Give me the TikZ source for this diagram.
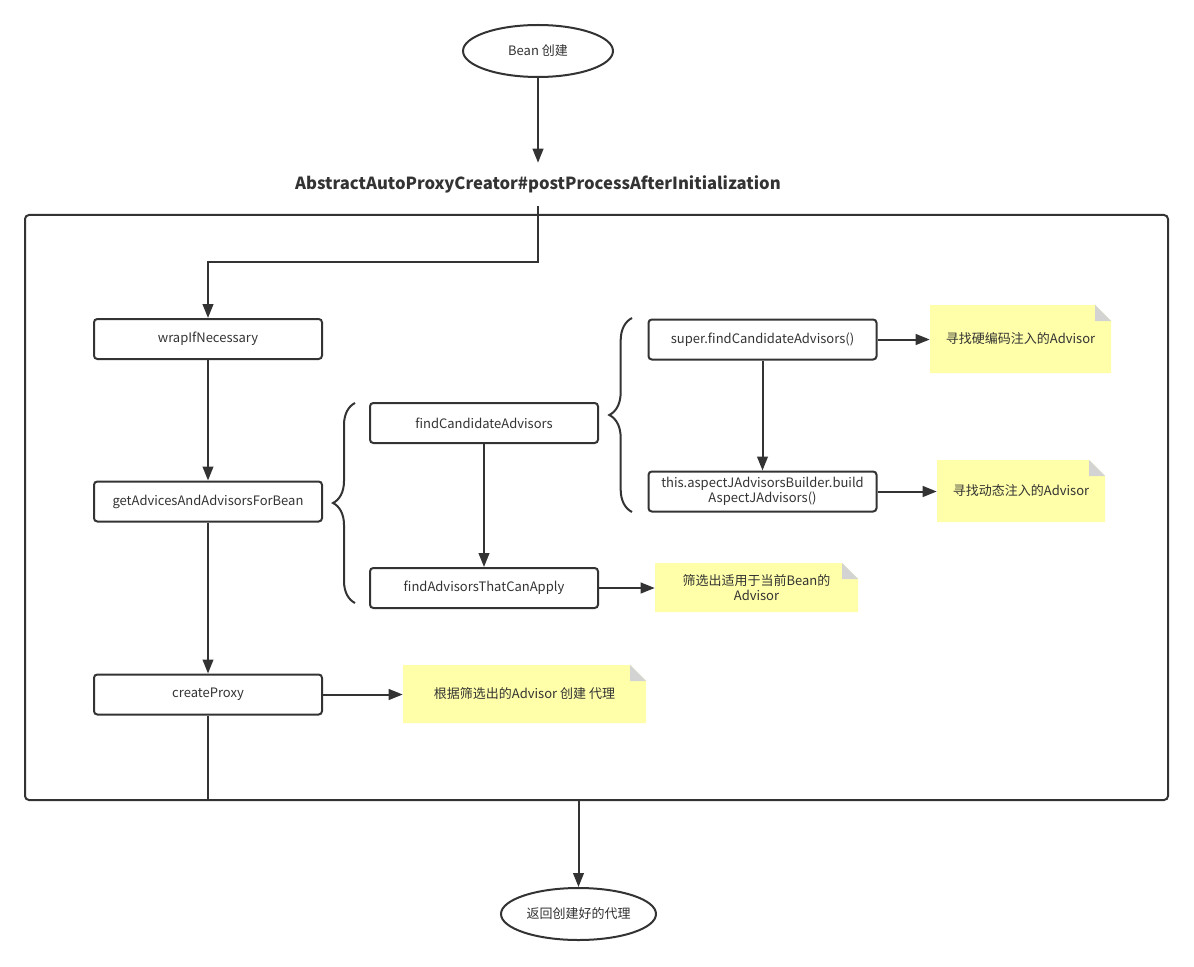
\documentclass[tikz,border=0pt]{standalone}
\usepackage{fontspec}
\setmainfont{Noto Sans CJK SC}
\usetikzlibrary{arrows.meta,shapes.geometric,decorations.pathreplacing}
\definecolor{ink}{HTML}{333333}
\definecolor{notefill}{HTML}{FFFFAA}
\definecolor{foldgray}{HTML}{D3D3D3}
\begin{document}
\begin{tikzpicture}[x=0.75pt,y=-0.75pt]
        \tikzset{line/.style={draw=ink, line width=1.5pt}}
        \tikzset{arrow/.style={line, -{Triangle[length=10.5pt,width=8pt]}}}
        \tikzset{label/.style={text=ink, font=\fontsize{9.75pt}{11.5pt}\selectfont, align=center, inner sep=0pt}}
        \tikzset{box/.style={line, label, rounded corners=2.5pt, minimum width=171pt, minimum height=30pt}}
        \tikzset{oval/.style={line, label, ellipse, fill=white}}
        \tikzset{note/.style={label, fill=white, path picture={
            \fill[notefill] (path picture bounding box.south west) -- (path picture bounding box.north west)
              -- ([xshift=-12pt]path picture bounding box.north east) -- ([yshift=-12pt]path picture bounding box.north east)
              -- (path picture bounding box.south east) -- cycle;
            \fill[foldgray] ([xshift=-12pt]path picture bounding box.north east) -- ([yshift=-12pt]path picture bounding box.north east)
              -- ([xshift=-12pt,yshift=-12pt]path picture bounding box.north east) -- cycle;}}}
        \useasboundingbox (0,0) rectangle (1194,966);
        \node[line, rounded corners=3pt, minimum width=857.25pt, minimum height=438.75pt] (frame) at (596.5,507.5) {};
        \node[oval, minimum width=112.5pt, minimum height=39pt] (bean) at (538,51) {Bean 创建};
        \node[label, font=\fontsize{12.5pt}{15pt}\selectfont\bfseries, minimum height=32.25pt] (title) at (538,184.5) {AbstractAutoProxyCreator\#postProcessAfterInitialization};
        \node[box] (wrap) at (208,339) {wrapIfNecessary};
        \node[box] (getadv) at (208,501.5) {getAdvicesAndAdvisorsForBean};
        \node[box] (proxy) at (208,694.5) {createProxy};
        \node[box] (findcand) at (484,423) {findCandidateAdvisors};
        \node[box] (findapply) at (484,588) {findAdvisorsThatCanApply};
        \node[box] (supercand) at (762.5,339.5) {super.findCandidateAdvisors()};
        \node[box] (aspectj) at (762.5,491.5) {this.aspectJAdvisorsBuilder.build\\AspectJAdvisors()};
        \node[note, minimum width=135.75pt, minimum height=51pt] (hardnote) at (1020.5,339) {寻找硬编码注入的Advisor};
        \node[note, minimum width=126pt, minimum height=46.5pt] (dynnote) at (1021,491) {寻找动态注入的Advisor};
        \node[note, minimum width=152.25pt, minimum height=36.75pt] (applynote) at (756.5,587.5) {筛选出适用于当前Bean的\\Advisor};
        \node[note, minimum width=182.25pt, minimum height=43.5pt] (proxynote) at (524.5,694) {根据筛选出的Advisor 创建 代理};
        \node[oval, minimum width=116.25pt, minimum height=39pt] (result) at (578.5,914) {返回创建好的代理};
        \draw[arrow] (bean.south) -- (title.north);
        \draw[arrow] (title.south) -- ++(0,56) -| (wrap.north);
        \draw[arrow] (wrap.south) -- (getadv.north);
        \draw[arrow] (getadv.south) -- (proxy.north);
        \draw[arrow] (findcand.south) -- (findapply.north);
        \draw[arrow] (supercand.south) -- (aspectj.north);
        \draw[arrow] (supercand.east) -- (supercand.east -| hardnote.west);
        \draw[arrow] (aspectj.east) -- (aspectj.east -| dynnote.west);
        \draw[arrow] (findapply.east) -- (findapply.east -| applynote.west);
        \draw[arrow] (proxy.east) -- (proxy.east -| proxynote.west);
        \draw[line] (proxy.south) -- (proxy.south |- frame.south);
        \draw[arrow] (result.north |- frame.south) -- (result.north);
        \draw[line, decorate, decoration={brace, amplitude=16.5pt}] (355,603) -- (355,403);
        \draw[line, decorate, decoration={brace, amplitude=17pt}] (632,512) -- (632,318);
\end{tikzpicture}
\end{document}
